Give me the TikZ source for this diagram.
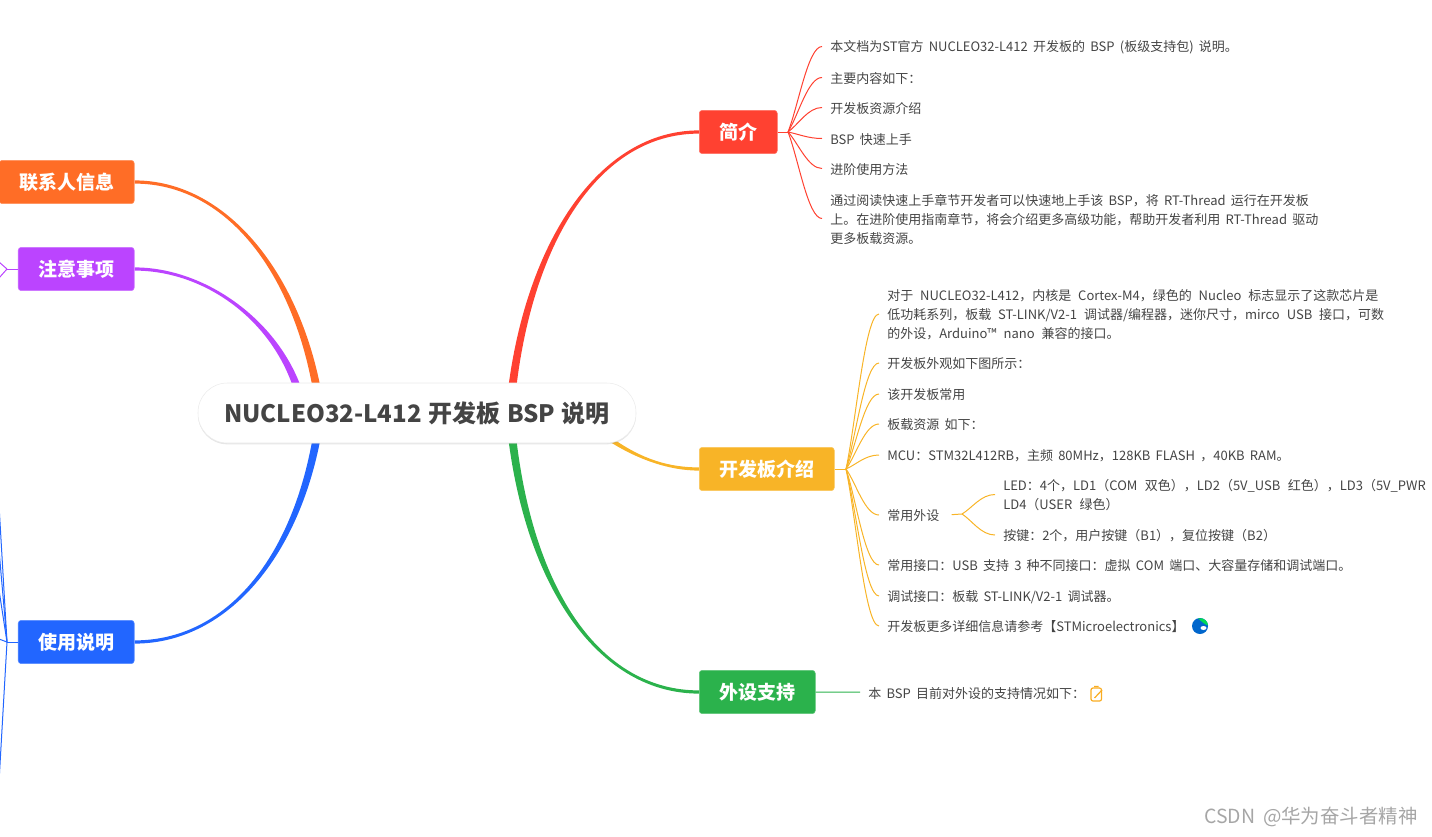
\documentclass[tikz,border=0pt]{standalone}
\usepackage{fontspec}
\setmainfont[WordSpace=1.8]{Noto Sans CJK SC}
\usetikzlibrary{calc,backgrounds,shadows}
\definecolor{cred}{HTML}{FF4131}
\definecolor{cyellow}{HTML}{F8B427}
\definecolor{cgreen}{HTML}{2BB24C}
\definecolor{corange}{HTML}{FF6D26}
\definecolor{cpurple}{HTML}{BB44FF}
\definecolor{cblue}{HTML}{2266FF}
\definecolor{ctext}{HTML}{444444}
\tikzset{
	wordgap/.style={execute at begin node={\spaceskip=#1\relax}},
	rootbox/.style={fill=white,draw=black!8,rounded corners=22pt,minimum width=328.5pt,minimum height=45pt,inner sep=0pt,wordgap=5pt,
		text=ctext,font=\fontsize{18pt}{20pt}\selectfont\bfseries,drop shadow={opacity=.2,shadow xshift=0pt,shadow yshift=-1pt}},
	topicbox/.style={fill=#1,draw=#1!75!white,rounded corners=2.25pt,minimum height=32.5pt,inner ysep=0pt,inner xsep=15pt,
		text=white,font=\fontsize{14.25pt}{16pt}\selectfont\bfseries},
	leaf/.style={anchor=west,inner xsep=6pt,inner ysep=0pt,align=left,text=ctext,font=\fontsize{9.75pt}{14.25pt}\selectfont},
	thinline/.style={line width=0.75pt,#1},
	curl/.style={to path={.. controls ($(\tikztostart)!.3!(\tikztotarget)$) and ($(\tikztotarget)+(-14,0)$) .. (\tikztotarget)}}
}
% thick branch, narrower towards the topic box
\newcommand{\taperline}[6]{\fill[#1] ($(#2)+(4,0)$) .. controls ($(#3)+(3.2,0)$) and ($(#4)+(0,#6)$) .. ($(#5)+(0,#6)$)
	-- ($(#5)-(0,#6)$) .. controls ($(#4)-(0,#6)$) and ($(#3)-(3.2,0)$) .. ($(#2)-(4,0)$) -- cycle;}
\begin{document}
\begin{tikzpicture}[x=0.75pt,y=-0.75pt]
	\useasboundingbox (0,0) rectangle (1432,836);
	\node[rootbox] (root) at (417,413) {NUCLEO32-L412 开发板 BSP 说明};
	% topics
	\node[topicbox=cred,anchor=west] (intro) at (699,132) {简介};
	\node[topicbox=cyellow,anchor=west] (board) at (699,469) {开发板介绍};
	\node[topicbox=cgreen,anchor=west] (periph) at (699,692) {外设支持};
	\node[topicbox=corange,anchor=east] (contact) at (134.5,182) {联系人信息};
	\node[topicbox=cpurple,anchor=east] (notice) at (134.5,269) {注意事项};
	\node[topicbox=cblue,anchor=east] (usage) at (134.5,642) {使用说明};
	% leaves of the red topic
	\node[leaf] (a1) at (822,47.5) {本文档为ST官方 NUCLEO32-L412 开发板的 BSP (板级支持包) 说明。};
	\node[leaf] (a2) at (822,78.5) {主要内容如下：};
	\node[leaf] (a3) at (822,108.5) {开发板资源介绍};
	\node[leaf] (a4) at (822,139.5) {BSP 快速上手};
	\node[leaf] (a5) at (822,169.5) {进阶使用方法};
	\node[leaf] (a6) at (822,219.5) {通过阅读快速上手章节开发者可以快速地上手该 BSP，将 RT-Thread 运行在开发板\\上。在进阶使用指南章节，将会介绍更多高级功能，帮助开发者利用 RT-Thread 驱动\\更多板载资源。};
	% leaves of the yellow topic
	\node[leaf,wordgap=5.2pt] (b1) at (879,315) {对于 NUCLEO32-L412，内核是 Cortex-M4，绿色的 Nucleo 标志显示了这款芯片是\\低功耗系列，板载 ST-LINK/V2-1 调试器/编程器，迷你尺寸，mirco USB 接口，可数\\的外设，Arduino™ nano 兼容的接口。};
	\node[leaf] (b2) at (879,364) {开发板外观如下图所示：};
	\node[leaf] (b3) at (879,395) {该开发板常用};
	\node[leaf] (b4) at (879,425) {板载资源 如下：};
	\node[leaf] (b5) at (879,456) {MCU：STM32L412RB，主频 80MHz，128KB FLASH ，40KB RAM。};
	\node[leaf] (b6) at (879,516) {常用外设};
	\node[leaf] (b7) at (879,566) {常用接口：USB 支持 3 种不同接口：虚拟 COM 端口、大容量存储和调试端口。};
	\node[leaf] (b8) at (879,597) {调试接口：板载 ST-LINK/V2-1 调试器。};
	\node[leaf] (b9) at (879,627) {开发板更多详细信息请参考【STMicroelectronics】};
	\node[leaf,wordgap=5.5pt] (c1) at (995,495.5) {LED：4个，LD1（COM 双色），LD2（5V\_USB 红色），LD3（5V\_PWR\\LD4（USER 绿色）};
	\node[leaf] (c2) at (995,536) {按键：2个，用户按键（B1），复位按键（B2）};
	\node[leaf] (d1) at (860,693.5) {本 BSP 目前对外设的支持情况如下：};
	% forks
	\coordinate (forka) at (788,132);
	\coordinate (forkb) at (846,469);
	\coordinate (forkc) at (962,514);
	\coordinate (forkp) at (7,269);
	\coordinate (forku) at (7,642);
	\draw[thinline=cred] (intro.east) -- (forka);
	\foreach \n in {a1,a2,a3,a4,a5,a6} \draw[thinline=cred] (forka) to[curl] ([yshift=0.75pt]\n.west);
	\draw[thinline=cyellow] (board.east) -- (forkb);
	\foreach \n in {b1,b2,b3,b4,b5,b6,b7,b8,b9} \draw[thinline=cyellow] (forkb) to[curl] ([yshift=0.75pt]\n.west);
	\draw[thinline=cyellow] ([xshift=3pt,yshift=1pt]b6.east) -- (forkc);
	\foreach \n in {c1,c2} \draw[thinline=cyellow] (forkc) to[curl] ([yshift=0.75pt]\n.west);
	\draw[thinline=cgreen] (periph.east) -- ([yshift=1pt]d1.west);
	% branches running off the left edge
	\coordinate (p1) at (-1,262);
	\coordinate (p2) at (-1,278);
	\draw[thinline=cpurple] (notice.west) -- (forkp);
	\foreach \n in {p1,p2} \draw[thinline=cpurple] (forkp) -- (\n);
	\coordinate (u1) at (-1,505);
	\coordinate (u2) at (-1,550);
	\coordinate (u3) at (-1,590);
	\coordinate (u4) at (-1,639);
	\coordinate (u5) at (-1,782);
	\draw[thinline=cblue] (usage.west) -- (forku);
	\foreach \n in {u1,u2,u3,u4,u5} \draw[thinline=cblue] (forku) -- (\n);
	% main branches, under the root
	\coordinate (rr) at (512,390);
	\coordinate (ry) at (608,438);
	\coordinate (rg) at (512,436);
	\coordinate (ro) at (317,390);
	\coordinate (rp) at (298,390);
	\coordinate (rb) at (317,436);
	\begin{scope}[on background layer]
		\taperline{cred}{rr}{530,240}{600,132}{intro.west}{1.6}
		\taperline{cgreen}{rg}{530,590}{600,692}{periph.west}{-1.6}
		\taperline{cyellow}{ry}{640,460}{670,469}{board.west}{-1.6}
		\taperline{corange}{ro}{295,270}{225,182}{contact.east}{-1.6}
		\taperline{cpurple}{rp}{275,320}{205,269}{notice.east}{-1.6}
		\taperline{cblue}{rb}{295,560}{225,642}{usage.east}{1.6}
	\end{scope}
	% link icon
	\fill[blue!50!cyan!80!black] (1200,626) circle (8);
	\fill[green!60!cyan!85!black] (1198,618.3) arc (-105:-5:8) .. controls (1205,625) and (1201,621) .. cycle;
	\fill[white] (1203.5,628) ellipse (3 and 2);
	% note icon
	\draw[cyellow!85!orange,line width=0.9pt,rounded corners=1.5pt] (1091,688) rectangle (1101.5,701);
	\draw[cyellow!85!orange,line width=0.9pt] (1094,686.5) -- (1098.5,686.5) (1094.5,698) -- (1102,690);
	\node[text=black!35,anchor=east,inner sep=0pt,font=\fontsize{14.6pt}{16pt}\selectfont] (mark) at (1418,817) {CSDN @华为奋斗者精神};
\end{tikzpicture}
\end{document}
